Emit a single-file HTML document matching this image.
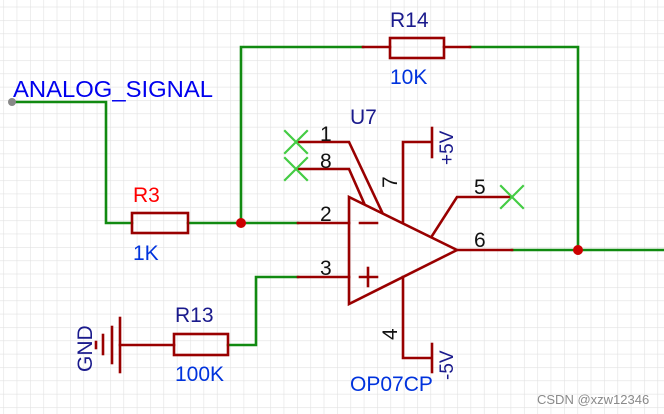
<!DOCTYPE html>
<html><head><meta charset="utf-8"><style>
html,body{margin:0;padding:0;background:#fff;}
svg{display:block;}
text{font-family:"Liberation Sans",sans-serif;}
</style></head><body>
<svg width="664" height="414" viewBox="0 0 664 414" xmlns="http://www.w3.org/2000/svg">
<defs>
<pattern id="g" x="3.3" y="6.7" width="13.35" height="13.35" patternUnits="userSpaceOnUse">
<path d="M0 0H13.35M0 0V13.35" stroke="#e2e2e2" stroke-width="1.2" fill="none"/>
</pattern>
</defs>
<rect width="664" height="414" fill="url(#g)"/>
<g fill="none" stroke-width="2.6" stroke-linecap="square">
<g stroke="#118a11">
<polyline points="12,102 106,102 106,223 132,223"/>
<polyline points="188,223 298,223"/>
<polyline points="241,223 241,47 363,47"/>
<polyline points="470,47 578,47 578,250 664,250"/>
<polyline points="512,250 578,250"/>
<polyline points="228,345 256,345 256,277 298,277"/>
</g>
<g stroke="#990000">
<rect x="132" y="213" width="56" height="20"/>
<rect x="390" y="38" width="54" height="20"/>
<line x1="363" y1="47" x2="390" y2="47"/>
<line x1="444" y1="47" x2="470" y2="47"/>
<rect x="174" y="334" width="54" height="21"/>
<line x1="120" y1="345" x2="174" y2="345"/>
<line x1="120" y1="318" x2="120" y2="372"/>
<line x1="112" y1="327" x2="112" y2="363"/>
<line x1="103" y1="335" x2="103" y2="354"/>
<line x1="96" y1="342" x2="96" y2="348"/>
<polygon points="349,197 457,250 349,304" stroke-linejoin="miter"/>
<line x1="298" y1="223" x2="349" y2="223"/>
<line x1="298" y1="277" x2="349" y2="277"/>
<line x1="360" y1="223" x2="377" y2="223"/>
<line x1="360" y1="277" x2="377" y2="277"/>
<line x1="368" y1="268" x2="368" y2="286"/>
<polyline points="298,142 349,142 382,212"/>
<polyline points="298,169 349,169 364,203"/>
<polyline points="403,222 403,142 431,142"/>
<line x1="432" y1="128" x2="432" y2="157"/>
<polyline points="403,277 403,358 431,358"/>
<line x1="432" y1="344" x2="432" y2="372"/>
<polyline points="432,236 457,197 512,197"/>
<line x1="457" y1="250" x2="512" y2="250"/>
</g>
<g stroke="#44cc44" stroke-width="2.2">
<path d="M285 131L307 153M307 131L285 153"/>
<path d="M285 158L307 180M307 158L285 180"/>
<path d="M501 186L523 208M523 186L501 208"/>
</g>
</g>
<circle cx="12" cy="102" r="4" fill="#888"/>
<circle cx="241" cy="223" r="5" fill="#cc0000"/>
<circle cx="578" cy="250" r="5" fill="#cc0000"/>
<text x="13" y="97" font-size="23" fill="#0000ee" textLength="200" lengthAdjust="spacingAndGlyphs">ANALOG_SIGNAL</text>
<text x="133" y="202" font-size="21" fill="#ff0000">R3</text>
<text x="133" y="260" font-size="21" fill="#0033dd">1K</text>
<text x="390" y="27" font-size="21" fill="#1a1a8c">R14</text>
<text x="390" y="84" font-size="21" fill="#0033dd">10K</text>
<text x="175" y="322" font-size="21" fill="#1a1a8c">R13</text>
<text x="175" y="381" font-size="21" fill="#0033dd">100K</text>
<text x="350" y="124" font-size="21" fill="#1a1a8c">U7</text>
<text x="350" y="391" font-size="21" fill="#0033dd">OP07CP</text>
<text transform="translate(92,372) rotate(-90)" font-size="21" fill="#1a1a8c">GND</text>
<text transform="translate(453,165) rotate(-90)" font-size="19" fill="#1a1a8c">+5V</text>
<text transform="translate(453,380) rotate(-90)" font-size="19" fill="#1a1a8c">-5V</text>
<g font-size="21" fill="#111">
<text x="320" y="141">1</text>
<text x="320" y="168">8</text>
<text x="320" y="221">2</text>
<text x="320" y="275">3</text>
<text x="474" y="194">5</text>
<text x="474" y="247">6</text>
<text transform="translate(397,188) rotate(-90)">7</text>
<text transform="translate(397,340) rotate(-90)">4</text>
</g>
<text x="537" y="404" font-size="13" fill="#8a8a8a">CSDN @xzw12346</text>
</svg>
</body></html>
